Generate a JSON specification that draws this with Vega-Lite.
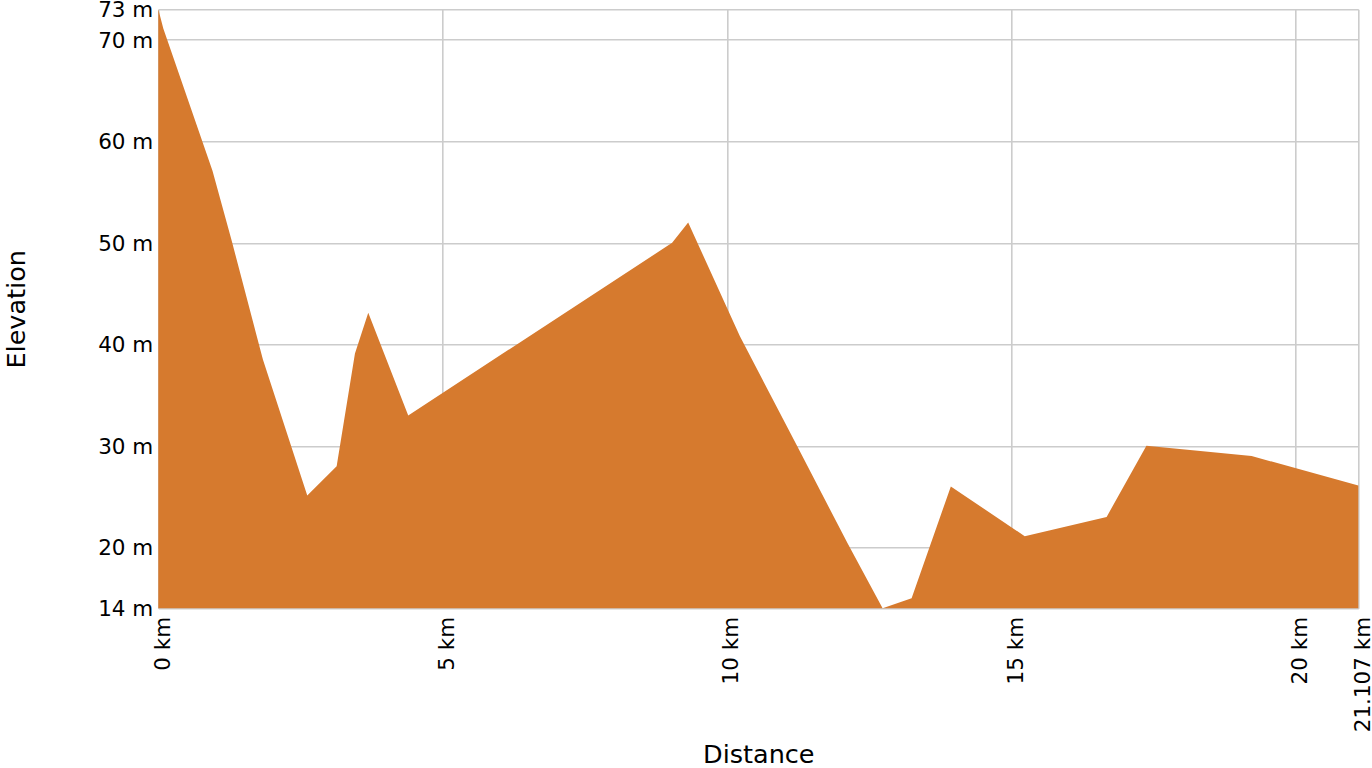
{
  "$schema": "https://vega.github.io/schema/vega-lite/v6.json",
  "width": 1200,
  "height": 599,
  "autosize": {"type": "none"},
  "padding": {"left": 158.3, "top": 9.3, "right": 13.7, "bottom": 159.7},
  "background": "white",
  "config": {
    "view": {"stroke": null},
    "font": "DejaVu Sans",
    "axis": {
      "labelFont": "DejaVu Sans",
      "titleFont": "DejaVu Sans",
      "labelColor": "#000000",
      "titleColor": "#000000",
      "titleFontWeight": "normal",
      "gridColor": "#cccccc",
      "gridWidth": 1.6,
      "domain": false,
      "ticks": false
    }
  },
  "data": {
    "values": [
      {"dist": 0, "ele": 73},
      {"dist": 0.088, "ele": 71.1},
      {"dist": 0.953, "ele": 57.1},
      {"dist": 1.296, "ele": 50.1},
      {"dist": 1.84, "ele": 38.5},
      {"dist": 2.62, "ele": 25.1},
      {"dist": 3.137, "ele": 28.0},
      {"dist": 3.459, "ele": 39.1},
      {"dist": 3.693, "ele": 43.1},
      {"dist": 4.396, "ele": 33.0},
      {"dist": 9.038, "ele": 50.0},
      {"dist": 9.32, "ele": 52.0},
      {"dist": 10.23, "ele": 40.8},
      {"dist": 11.225, "ele": 30.1},
      {"dist": 12.133, "ele": 20.3},
      {"dist": 12.74, "ele": 14.0},
      {"dist": 13.25, "ele": 15.0},
      {"dist": 13.94, "ele": 26.0},
      {"dist": 15.24, "ele": 21.1},
      {"dist": 16.68, "ele": 23.0},
      {"dist": 17.38, "ele": 30.0},
      {"dist": 19.23, "ele": 29.0},
      {"dist": 21.107, "ele": 26.1}
    ]
  },
  "mark": {"type": "area", "color": "#D67A2E", "interpolate": "linear"},
  "encoding": {
    "x": {
      "field": "dist",
      "type": "quantitative",
      "scale": {"domain": [0, 21.107], "nice": false, "zero": false},
      "axis": {
        "title": "Distance",
        "values": [0, 5, 10, 15, 20, 21.107],
        "labelExpr": "datum.value + ' km'",
        "labelAngle": -90,
        "labelAlign": "right",
        "labelBaseline": "middle",
        "labelFontSize": 21.5,
        "labelPadding": 8,
        "labelOffset": 5,
        "labelFlush": false,
        "labelOverlap": false,
        "titleFontSize": 25.5,
        "titleX": 600,
        "titleY": 154,
        "titleAlign": "center",
        "titleBaseline": "alphabetic",
        "titleAngle": 0
      }
    },
    "y": {
      "field": "ele",
      "type": "quantitative",
      "scale": {"domain": [14, 73], "nice": false, "zero": false},
      "axis": {
        "title": "Elevation",
        "values": [14, 20, 30, 40, 50, 60, 70, 73],
        "labelExpr": "datum.value + ' m'",
        "labelFontSize": 21.5,
        "labelPadding": 5.5,
        "labelOffset": 1.5,
        "labelFlush": false,
        "labelOverlap": false,
        "titleFontSize": 25.5,
        "titleX": -134.3,
        "titleY": 299.5,
        "titleAlign": "center",
        "titleBaseline": "alphabetic",
        "titleAngle": -90
      }
    },
    "y2": {"datum": 14}
  }
}
